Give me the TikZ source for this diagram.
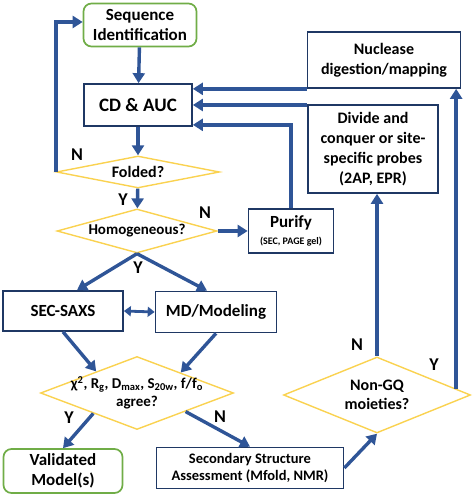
\documentclass[tikz,border=0pt]{standalone}
\usepackage{fontspec}
\setmainfont{Carlito}
\usetikzlibrary{shapes.geometric,arrows.meta,positioning,calc}
\definecolor{flowblue}{RGB}{47,85,151}
\definecolor{flownavy}{RGB}{31,56,100}
\definecolor{flowgreen}{RGB}{112,173,71}
\definecolor{flowgold}{RGB}{250,210,80}

\begin{document}
\begin{tikzpicture}[
  x=1pt, y=1pt,
  box/.style={rectangle, draw=flownavy, line width=1.7pt, fill=white, align=center, inner sep=1pt, font=\bfseries\fontsize{17}{20}\selectfont},
  endbox/.style={box, draw=flowgreen, rounded corners=8pt},
  decision/.style={diamond, draw=flowgold, line width=1.4pt, fill=white, align=center, inner sep=0pt, font=\bfseries\fontsize{16}{19}\selectfont},
  arrow/.style={-{Triangle[length=10pt,width=12pt]}, line width=3.4pt, flowblue},
  yn/.style={font=\bfseries\fontsize{18}{20}\selectfont}
]
\useasboundingbox (0,0) rectangle (474,494);

% Main column
\node[endbox, minimum width=113pt, minimum height=43pt] (seq) at (140,469) {Sequence\\Identification};
\node[box, minimum width=108pt, minimum height=42pt, font=\bfseries\fontsize{19}{22}\selectfont] (cd) at (138,389) {CD \& AUC};
\node[decision, aspect=5.1, minimum width=163pt, minimum height=32pt] (folded) at (138,322) {Folded?};
\node[decision, aspect=3.64, minimum width=160pt, minimum height=44pt, font=\bfseries\fontsize{15}{18}\selectfont] (homog) at (137,263) {Homogeneous?};
\node[box, minimum width=85pt, minimum height=44pt] (purify) at (291,263) {Purify\\[-3pt]{\fontsize{10}{12}\selectfont(SEC, PAGE gel)}};

% Analysis
\node[box, minimum width=120pt, minimum height=40pt] (secsaxs) at (63,183) {SEC-SAXS};
\node[box, minimum width=121pt, minimum height=41pt] (md) at (216,182) {MD/Modeling};
\node[decision, minimum width=193pt, minimum height=73pt] (agree) at (137,101) {};
\node[font=\bfseries\fontsize{15}{18}\selectfont, align=center] (agreetxt) at (137,101) {χ\textsuperscript{2}, R\textsubscript{g}, D\textsubscript{max}, S\textsubscript{20w}, f/f\textsubscript{o}\\agree?};
\node[endbox, minimum width=119pt, minimum height=44pt] (valid) at (63,23) {Validated\\Model(s)};
\node[box, minimum width=187pt, minimum height=41pt, font=\bfseries\fontsize{14.5}{17}\selectfont] (second) at (250,26) {Secondary Structure\\Assessment (Mfold, NMR)};

% Right column
\node[decision, aspect=2.46, minimum width=187pt, minimum height=76pt] (nongq) at (377,99) {Non-GQ\\moieties?};
\node[box, minimum width=130pt, minimum height=88pt, font=\bfseries\fontsize{16}{20}\selectfont] (divide) at (373,345) {Divide and\\conquer or site-\\specific probes\\(2AP, EPR)};
\node[box, minimum width=153pt, minimum height=56pt, font=\bfseries\fontsize{16}{20}\selectfont] (nuclease) at (384,434) {Nuclease\\digestion/mapping};

% Arrows
\draw[arrow] (seq) -- (cd);
\draw[arrow] (cd) -- (folded);
\draw[arrow] (folded) -- (homog);
\draw[arrow] (folded.west) |- ([yshift=3pt]seq.west);
\draw[arrow] (homog.east) -- (purify.west);
\draw[arrow] (purify.north) |- ([yshift=2pt]cd.south east);
\draw[arrow] (divide.north west |- cd.east) -- (cd.east);
\draw[arrow] (nuclease.south west) -- (nuclease.south west -| cd.east);
\draw[arrow] (homog.south) -- ([xshift=14pt]secsaxs.north);
\draw[arrow] (homog.south) -- ([xshift=-9pt]md.north);
\draw[{Triangle[length=7pt,width=10pt]}-{Triangle[length=7pt,width=10pt]}, line width=2.8pt, flowblue] (secsaxs.east) -- (md.west);
\draw[arrow] (secsaxs.south) -- ($(agree.west)!0.58!(agree.north)$);
\draw[arrow] (md.south) -- ($(agree.north)!0.45!(agree.east)$);
\draw[arrow] ($(agree.west)!0.55!(agree.south)$) -- (valid.north);
\draw[arrow] ($(agree.south)!0.5!(agree.east)$) -- (second.north);
\draw[arrow] (second.east) -- (nongq.south);
\draw[arrow] (nongq.north) -- (nongq.north |- divide.south);
\draw[arrow] ($(nongq.east)!0.16!(nongq.north)$) coordinate (nqy) -- (nqy |- nuclease.south);

% Y/N labels
\node[yn] (nfold) at (77,339) {N};
\node[yn] (yfold) at (123,294) {Y};
\node[yn] (nhomog) at (205,281) {N};
\node[yn] (yhomog) at (138,226) {Y};
\node[yn] (yagree) at (69,76) {Y};
\node[yn] (nagree) at (220,77) {N};
\node[yn] (nnongq) at (357,149) {N};
\node[yn] (ynongq) at (434,129) {Y};

\end{tikzpicture}
\end{document}
